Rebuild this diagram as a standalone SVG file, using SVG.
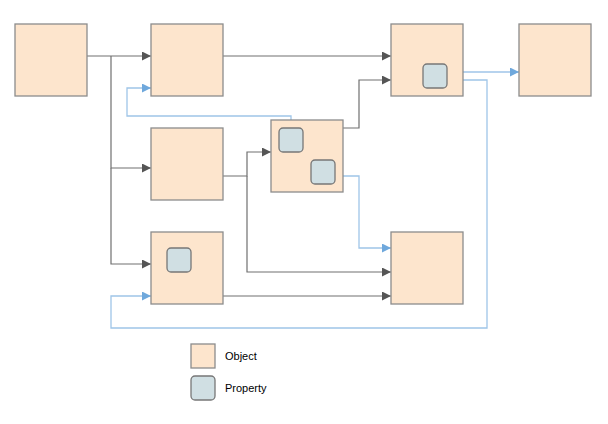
<svg xmlns="http://www.w3.org/2000/svg" width="608" height="424" viewBox="0 0 608 424">
<style>
.o{fill:#fde5cd;stroke:#8c8c8c;stroke-width:1.3}
.p{fill:#d0dfe3;stroke:#777;stroke-width:1.3}
.g{fill:none;stroke:#707070;stroke-width:1.2}
.b{fill:none;stroke:#9fc5e8;stroke-width:1.3}
text{font-family:"Liberation Sans",Arial,sans-serif;font-size:11px;fill:#000}
</style>
<defs>
<marker id="ag" viewBox="0 0 10 10" refX="10" refY="5" markerWidth="9" markerHeight="9" markerUnits="userSpaceOnUse" orient="auto"><path d="M0,0L10,5L0,10z" fill="#555"/></marker>
<marker id="ab" viewBox="0 0 10 10" refX="10" refY="5" markerWidth="9" markerHeight="9" markerUnits="userSpaceOnUse" orient="auto"><path d="M0,0L10,5L0,10z" fill="#6fa8dc"/></marker>
</defs>
<g id="connectors">
<path class="g" d="M87,56H151" marker-end="url(#ag)"/>
<path class="g" d="M111,56V168H151" marker-end="url(#ag)"/>
<path class="g" d="M111,168V264H151" marker-end="url(#ag)"/>
<path class="g" d="M223,56H391" marker-end="url(#ag)"/>
<path class="g" d="M223,176H247V152H271" marker-end="url(#ag)"/>
<path class="g" d="M247,176V272H391" marker-end="url(#ag)"/>
<path class="g" d="M343,128H359V80H391" marker-end="url(#ag)"/>
<path class="g" d="M223,296H391" marker-end="url(#ag)"/>
<path class="b" d="M291,128V116H127V88H151" marker-end="url(#ab)"/>
<path class="b" d="M335,176H359V248H391" marker-end="url(#ab)"/>
<path class="b" d="M447,72H519" marker-end="url(#ab)"/>
<path class="b" d="M447,80H487V328H111V296H151" marker-end="url(#ab)"/>
</g>
<g id="nA"><rect class="o" x="15" y="24" width="72" height="72"/></g>
<g id="nB"><rect class="o" x="151" y="24" width="72" height="72"/></g>
<g id="nC"><rect class="o" x="151" y="128" width="72" height="72"/></g>
<g id="nD"><rect class="o" x="271" y="120" width="72" height="72"/><rect class="p" x="279" y="128" width="24" height="24" rx="4"/><rect class="p" x="311" y="160" width="24" height="24" rx="4"/></g>
<g id="nE"><rect class="o" x="391" y="24" width="72" height="72"/><rect class="p" x="423" y="64" width="24" height="24" rx="4"/></g>
<g id="nF"><rect class="o" x="519" y="24" width="72" height="72"/></g>
<g id="nG"><rect class="o" x="151" y="232" width="72" height="72"/><rect class="p" x="167" y="248" width="24" height="24" rx="4"/></g>
<g id="nH"><rect class="o" x="391" y="232" width="72" height="72"/></g>
<g id="legend">
<rect class="o" x="191" y="344" width="24" height="24"/><text x="225" y="360">Object</text>
<rect class="p" x="191" y="376" width="24" height="24" rx="4"/><text x="225" y="392">Property</text>
</g>
</svg>
